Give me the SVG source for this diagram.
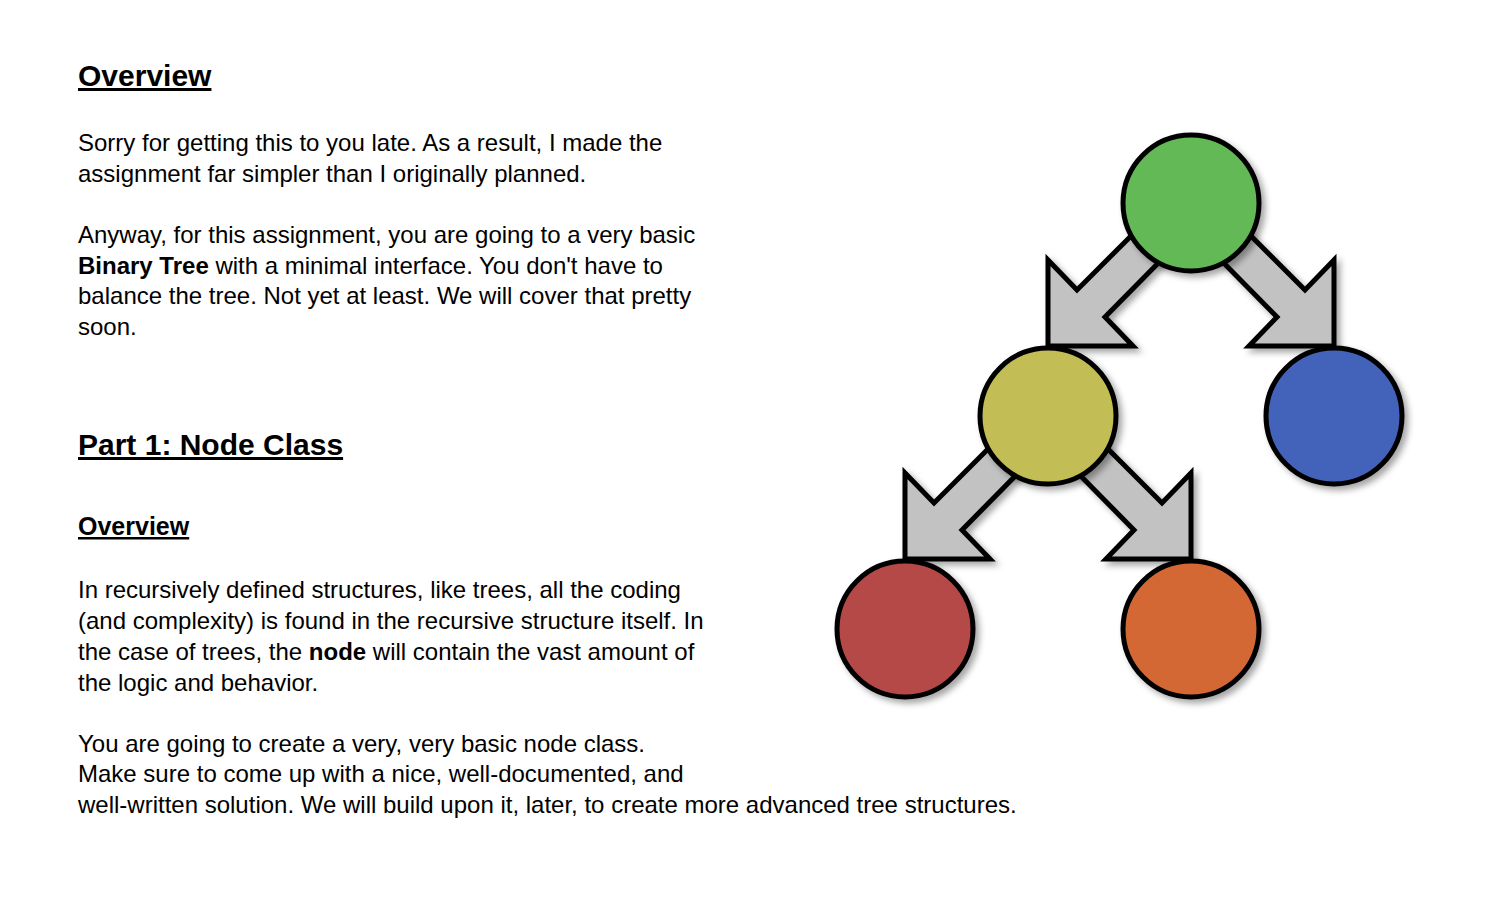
<svg xmlns="http://www.w3.org/2000/svg" width="1502" height="898" viewBox="0 0 1502 898">
<defs>
<filter id="sh" x="-20%" y="-20%" width="150%" height="150%"><feDropShadow dx="4" dy="4" stdDeviation="3" flood-color="#000" flood-opacity="0.35"/></filter>
<style>
text{font-family:"Liberation Sans",Arial,sans-serif;font-size:24px;fill:#000}
.h{font-weight:bold;text-decoration:underline;font-size:30px}
.h2{font-weight:bold;text-decoration:underline;font-size:25px}
.arr{fill:#c2c2c2;stroke:#000;stroke-width:5;stroke-linejoin:miter;filter:url(#sh)}
.n{stroke:#000;stroke-width:5;filter:url(#sh)}
</style>
</defs>
<rect width="1502" height="898" fill="#fff"/>
<g id="text">
<text class="h" x="78" y="86">Overview</text>
<text x="78" y="151">Sorry for getting this to you late. As a result, I made the</text>
<text x="78" y="182">assignment far simpler than I originally planned.</text>
<text x="78" y="243">Anyway, for this assignment, you are going to a very basic</text>
<text x="78" y="274"><tspan font-weight="bold">Binary Tree</tspan> with a minimal interface. You don't have to</text>
<text x="78" y="304">balance the tree. Not yet at least. We will cover that pretty</text>
<text x="78" y="335">soon.</text>
<text class="h" x="78" y="455">Part 1: Node Class</text>
<text class="h2" x="78" y="535">Overview</text>
<text x="78" y="598">In recursively defined structures, like trees, all the coding</text>
<text x="78" y="629">(and complexity) is found in the recursive structure itself. In</text>
<text x="78" y="660">the case of trees, the <tspan font-weight="bold">node</tspan> will contain the vast amount of</text>
<text x="78" y="691">the logic and behavior.</text>
<text x="78" y="752">You are going to create a very, very basic node class.</text>
<text x="78" y="782">Make sure to come up with a nice, well-documented, and</text>
<text x="78" y="813">well-written solution. We will build upon it, later, to create more advanced tree structures.</text>
</g>
<g id="connectors">
<polygon class="arr" points="1048,346 1048,260 1077,290 1150,217 1177,244 1105,317 1133,346"/>
<polygon class="arr" points="1334,346 1334,260 1305,290 1232,217 1205,244 1277,317 1249,346"/>
<polygon class="arr" points="905,559 905,473 934,503 1007,430 1034,457 962,530 990,559"/>
<polygon class="arr" points="1191,559 1191,473 1162,503 1089,430 1062,457 1134,530 1106,559"/>
</g>
<g id="node-root"><circle class="n" cx="1191" cy="203" r="68" fill="#63b955"/></g>
<g id="node-left"><circle class="n" cx="1048" cy="416" r="68" fill="#c3bd55"/></g>
<g id="node-right"><circle class="n" cx="1334" cy="416" r="68" fill="#4263b9"/></g>
<g id="node-ll"><circle class="n" cx="905" cy="629" r="68" fill="#b44a47"/></g>
<g id="node-lr"><circle class="n" cx="1191" cy="629" r="68" fill="#d46836"/></g>
</svg>
